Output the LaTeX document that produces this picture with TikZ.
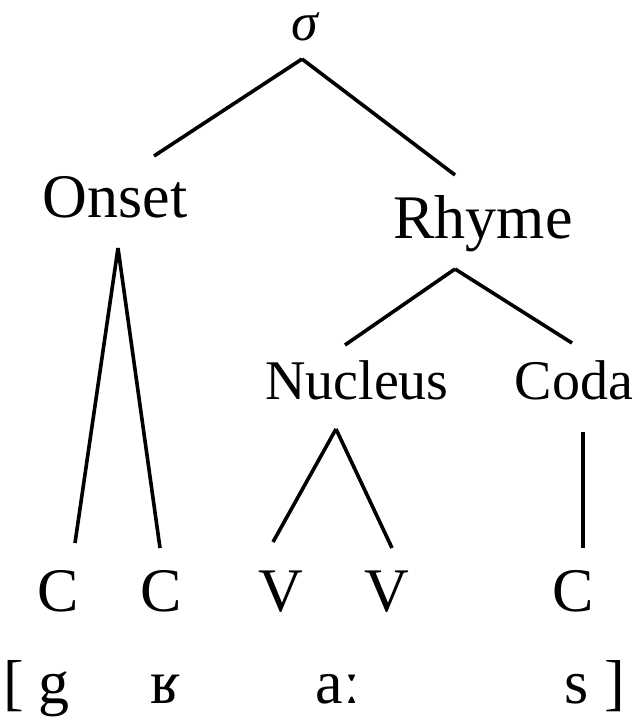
\documentclass[tikz,border=0pt]{standalone}
\usepackage{fontspec}
\setmainfont{Liberation Serif}
\usepackage{tikz}

\begin{document}
\begin{tikzpicture}[x=1pt,y=-1pt,
  every node/.style={anchor=base,inner sep=0pt,font=\fontsize{62}{70}\selectfont},
  small/.style={font=\fontsize{56}{64}\selectfont},
  branch/.style={line width=3.6pt}]
\useasboundingbox (0,0) rectangle (640,726);

\node[font=\fontsize{54}{62}\selectfont\itshape] (sigma) at (305,40) {σ};
\node (onset) at (115,217) {Onset};
\node (rhyme) at (483,238) {Rhyme};
\node[small] (nucleus) at (357,399) {Nucleus};
\node[small] (coda) at (574,399) {Coda};

\node (c1) at (58,611) {C};
\node (c2) at (161,611) {C};
\node (v1) at (281,611) {V};
\node (v2) at (387,611) {V};
\node (c3) at (573,611) {C};

\node (lbr) at (14,703) {[};
\node (g) at (54,703) {g};
\node (r) at (166,703) {ʁ};
\node (a) at (338,703) {aː};
\node (s) at (577,703) {s};
\node (rbr) at (615,703) {]};

\path[branch] ([shift={(-3,19)}]sigma.base) edge ([shift={(39,-61)}]onset.base);
\path[branch] ([shift={(-3,19)}]sigma.base) edge ([shift={(-28,-63)}]rhyme.base);
\path[branch] ([shift={(3,31)}]onset.base) edge ([shift={(17,-68)}]c1.base);
\path[branch] ([shift={(3,31)}]onset.base) edge ([shift={(-1,-63)}]c2.base);
\path[branch] ([shift={(-28,31)}]rhyme.base) edge ([shift={(-12,-54)}]nucleus.base);
\path[branch] ([shift={(-28,31)}]rhyme.base) edge ([shift={(-2,-56)}]coda.base);
\path[branch] ([shift={(-21,30)}]nucleus.base) edge ([shift={(-8,-69)}]v1.base);
\path[branch] ([shift={(-21,30)}]nucleus.base) edge ([shift={(5,-63)}]v2.base);
\path[branch] ([shift={(9,33)}]coda.base) edge ([shift={(10,-63)}]c3.base);
\end{tikzpicture}
\end{document}
